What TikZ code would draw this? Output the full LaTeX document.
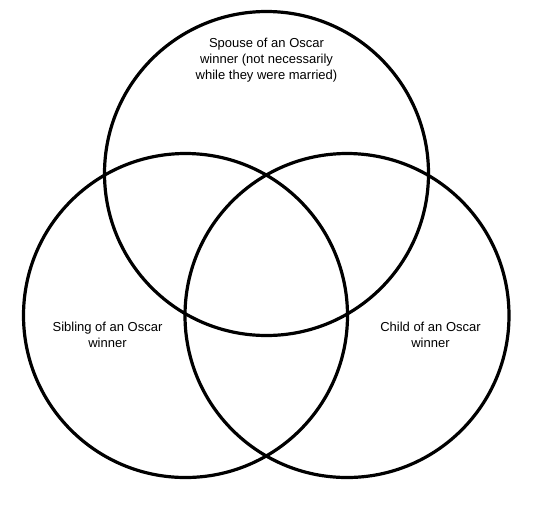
\documentclass[tikz,border=0pt]{standalone}
\usepackage{fontspec}
\setmainfont{Liberation Sans}
\begin{document}
\begin{tikzpicture}[x=1pt,y=-1pt,
  vennset/.style={circle,draw=black,line width=3.2pt,minimum size=324pt,inner sep=0pt},
  vennlabel/.style={align=center,font=\fontsize{13}{16}\selectfont,inner sep=0pt}]
\useasboundingbox[fill=white] (0,0) rectangle (545,507);
\node[vennset] (spousecirc) at (266.5,173.5) {};
\node[vennset] (siblingcirc) at (185.5,315.5) {};
\node[vennset] (childcirc) at (347,315.5) {};
\node[vennlabel] (spouse) at (266.5,60) {Spouse of an Oscar\\winner (not necessarily\\while they were married)};
\node[vennlabel] (sibling) at (107.5,335) {Sibling of an Oscar\\winner};
\node[vennlabel] (child) at (430.5,335) {Child of an Oscar\\winner};
\end{tikzpicture}
\end{document}
